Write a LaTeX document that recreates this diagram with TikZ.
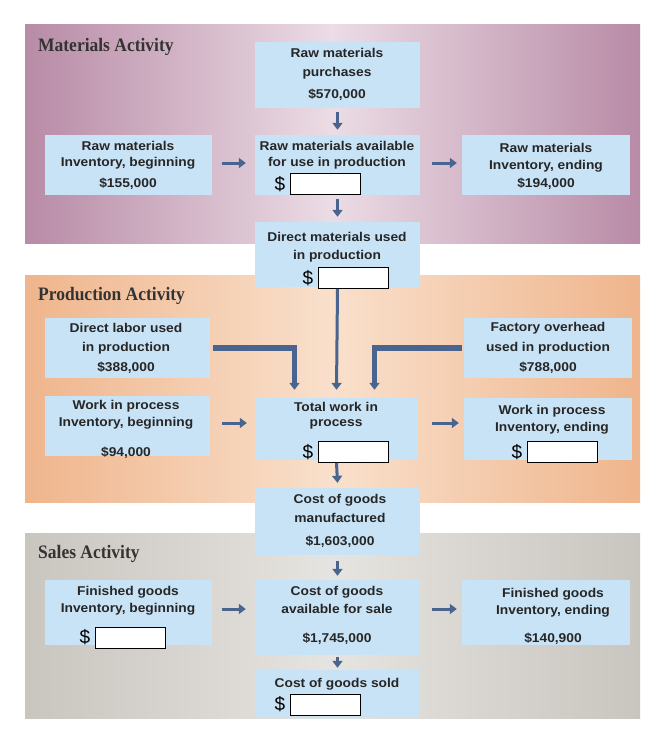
\documentclass[tikz,border=0pt]{standalone}
\usepackage{fontspec}
\setmainfont{Liberation Sans}
\newfontfamily\titlefont{Liberation Serif}
\usetikzlibrary{arrows.meta}
\definecolor{boxblue}{HTML}{C9E3F6}
\definecolor{arr}{HTML}{4A6490}
\definecolor{mauveE}{HTML}{B88BA6}
\definecolor{mauveC}{HTML}{EBDCE5}
\definecolor{peachE}{HTML}{EFB58C}
\definecolor{peachC}{HTML}{F9E0CC}
\definecolor{grayE}{HTML}{C9C5BF}
\definecolor{grayC}{HTML}{E6E4E0}
\tikzset{
 box/.style={fill=boxblue,inner sep=0pt,draw=none},
 txt/.style={font=\bfseries\fontsize{14.5}{15}\selectfont,inner sep=0pt,xscale=0.95,yscale=0.88,text=black!85},
 ans/.style={draw=black,fill=white,minimum width=70pt,minimum height=21pt,inner sep=0pt,line width=0.6pt},
 dol/.style={font=\fontsize{19}{19}\selectfont,inner sep=0pt},
 ttl/.style={font=\titlefont\bfseries\fontsize{19}{20}\selectfont,anchor=west,inner sep=0pt,xscale=0.92,text=black!80},
 flow/.style={-{Triangle[width=10pt,length=7pt]},line width=3pt,draw=arr},
 fat/.style={-{Triangle[width=10pt,length=7pt]},line width=5.5pt,draw=arr},
}
\newcommand{\bx}[5]{\node[box,minimum width={#4-#2},minimum height={#5-#3}] (#1) at ({(#2+#4)/2},{(#3+#5)/2}) {};}
\begin{document}
\begin{tikzpicture}[x=1pt,y=-1pt]
\useasboundingbox (0,0) rectangle (665,752);
\fill[white] (0,0) rectangle (665,752);
% bands
\shade[left color=mauveE,right color=mauveE,middle color=mauveC] (25,25) rectangle (640,243);
\shade[left color=peachE,right color=peachE,middle color=peachC] (25,275) rectangle (640,502);
\shade[left color=grayE,right color=grayE,middle color=grayC] (25,533) rectangle (640,718);
\node[ttl] (t1) at (38,47) {Materials Activity};
\node[ttl] (t2) at (38,296) {Production Activity};
\node[ttl] (t3) at (38,554) {Sales Activity};
% boxes
\bx{purch}{255}{42}{420}{108}
\bx{rmbeg}{45}{135}{212}{195}
\bx{avail}{255}{135}{420}{195}
\bx{rmend}{462}{135}{630}{195}
\bx{dm}{255}{222}{420}{287}
\bx{lab}{45}{318}{210}{378}
\bx{ovh}{464}{318}{632}{378}
\bx{wipb}{45}{396}{210}{456}
\bx{twip}{255}{398}{418}{460}
\bx{wipe}{464}{398}{632}{460}
\bx{cogm}{255}{488}{420}{555}
\bx{fgb}{45}{580}{212}{645}
\bx{cga}{255}{580}{420}{655}
\bx{fge}{462}{580}{630}{645}
\bx{cogs}{255}{670}{420}{718}
% texts
\node[txt] (a1) at (337,53) {Raw materials};
\node[txt] (a2) at (337,73) {purchases};
\node[txt] (a3) at (337,95) {\$570,000};
\node[txt] (b1) at (128,146) {Raw materials};
\node[txt] (b2) at (128,163) {Inventory, beginning};
\node[txt] (b3) at (128,184) {\$155,000};
\node[txt] (c1) at (337,146) {Raw materials available};
\node[txt] (c2) at (337,163) {for use in production};
\node[dol] (c3) at (280,184) {\$};
\node[ans] (c4) at (325,184) {};
\node[txt] (d1) at (546,148) {Raw materials};
\node[txt] (d2) at (546,166) {Inventory, ending};
\node[txt] (d3) at (546,184) {\$194,000};
\node[txt] (e1) at (337,237) {Direct materials used};
\node[txt] (e2) at (337,256) {in production};
\node[dol] (e3) at (308,278) {\$};
\node[ans] (e4) at (353,278) {};
\node[txt] (f1) at (126,328) {Direct labor used};
\node[txt] (f2) at (126,348) {in production};
\node[txt] (f3) at (126,368) {\$388,000};
\node[txt] (g1) at (548,328) {Factory overhead};
\node[txt] (g2) at (548,348) {used in production};
\node[txt] (g3) at (548,368) {\$788,000};
\node[txt] (h1) at (126,406) {Work in process};
\node[txt] (h2) at (126,423) {Inventory, beginning};
\node[txt] (h3) at (126,453) {\$94,000};
\node[txt] (i1) at (336,407) {Total work in};
\node[txt] (i2) at (336,424) {process};
\node[dol] (i3) at (308,452) {\$};
\node[ans] (i4) at (353,452) {};
\node[txt] (j1) at (552,411) {Work in process};
\node[txt] (j2) at (552,428) {Inventory, ending};
\node[dol] (j3) at (517,452) {\$};
\node[ans] (j4) at (562,452) {};
\node[txt] (k1) at (340,500) {Cost of goods};
\node[txt] (k2) at (340,518) {manufactured};
\node[txt] (k3) at (340,542) {\$1,603,000};
\node[txt] (l1) at (128,592) {Finished goods};
\node[txt] (l2) at (128,609) {Inventory, beginning};
\node[dol] (l3) at (85,637) {\$};
\node[ans] (l4) at (130,638) {};
\node[txt] (m1) at (337,592) {Cost of goods};
\node[txt] (m2) at (337,609) {available for sale};
\node[txt] (m3) at (337,639) {\$1,745,000};
\node[txt] (n1) at (553,594) {Finished goods};
\node[txt] (n2) at (553,611) {Inventory, ending};
\node[txt] (n3) at (553,639) {\$140,900};
\node[txt] (o1) at (337,684) {Cost of goods sold};
\node[dol] (o3) at (280,704) {\$};
\node[ans] (o4) at (325,705) {};
% connectors
\draw[flow] ([yshift=-4pt]purch.south) -- ([yshift=5pt]avail.north);
\draw[flow] ([yshift=-4pt]avail.south) -- ([yshift=5pt]dm.north);
\draw[flow] ([xshift=10pt]rmbeg.east |- c2) -- ([xshift=-9pt]avail.west |- c2);
\draw[flow] ([xshift=12pt]avail.east |- c2) -- ([xshift=-5pt]rmend.west |- c2);
\draw[flow] (e4.south -| dm.south) -- ([yshift=8pt]twip.north);
\draw[fat] ([xshift=3pt]lab.east |- f2) -| ([xshift=-42pt,yshift=8pt]twip.north);
\draw[fat] ([xshift=-2pt]ovh.west |- g2) -| ([xshift=38pt,yshift=8pt]twip.north);
\draw[flow] ([xshift=12pt]wipb.east |- h2) -- ([xshift=-8pt]twip.west |- h2);
\draw[flow] ([xshift=14pt]twip.east |- h2) -- ([xshift=-5pt]wipe.west |- h2);
\draw[flow] (i4.south -| twip.south) -- ([yshift=5pt]cogm.north);
\draw[flow] ([yshift=-6pt]cogm.south) -- ([yshift=4pt]cga.north);
\draw[flow] ([xshift=10pt]fgb.east |- m2) -- ([xshift=-9pt]cga.west |- m2);
\draw[flow] ([xshift=12pt]cga.east |- m2) -- ([xshift=-5pt]fge.west |- m2);
\draw[flow] ([yshift=-2pt]cga.south) -- ([yshift=2pt]cogs.north);
\end{tikzpicture}
\end{document}
